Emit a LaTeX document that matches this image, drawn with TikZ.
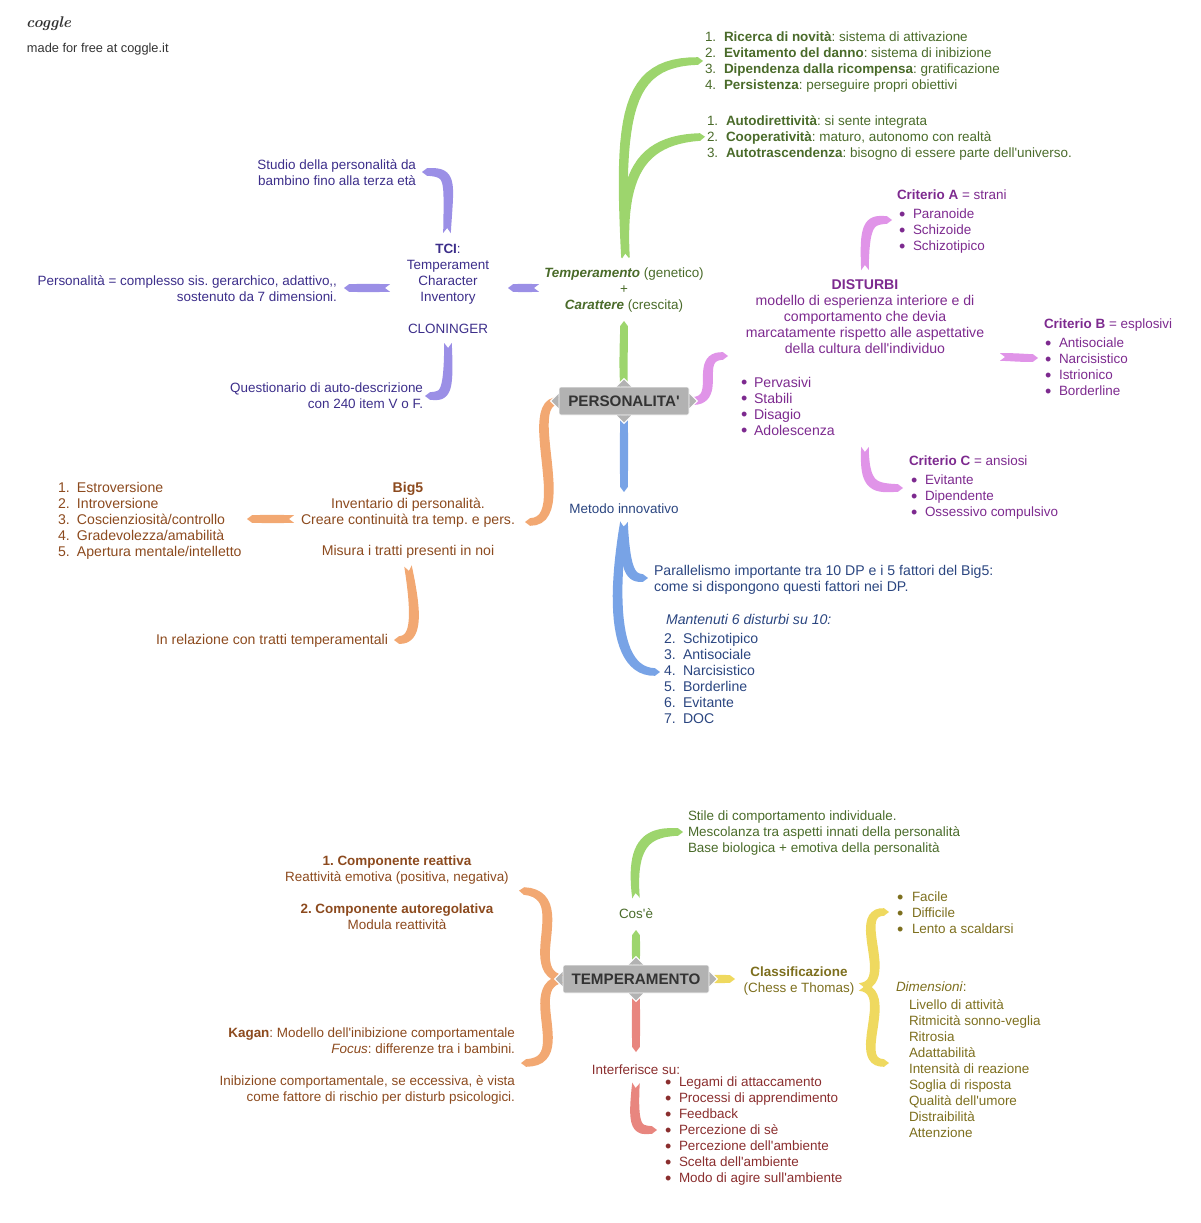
\documentclass[tikz,border=0pt]{standalone}
\usepackage{fontspec}
\usetikzlibrary{calc,backgrounds}
\newfontfamily\lib{Liberation Sans}
\definecolor{gribbon}{HTML}{9DD56D}\definecolor{gtext}{HTML}{4A6B2A}
\definecolor{vribbon}{HTML}{9B8FE6}\definecolor{vtext}{HTML}{3C2E8A}
\definecolor{mribbon}{HTML}{E094E8}\definecolor{mtext}{HTML}{7D2A8F}
\definecolor{oribbon}{HTML}{F2A872}\definecolor{otext}{HTML}{8C4A1E}
\definecolor{bribbon}{HTML}{78A3E6}\definecolor{btext}{HTML}{2A4580}
\definecolor{yribbon}{HTML}{EFD95F}\definecolor{ytext}{HTML}{7D6F1E}
\definecolor{rribbon}{HTML}{E8867F}\definecolor{rtext}{HTML}{8A2E2E}
\definecolor{central}{HTML}{B2B2B2}\definecolor{ctext}{HTML}{333333}
\newcommand\Sx{\rule[-4.8pt]{0pt}{16pt}}
\newcommand\Ni[1]{\makebox[19pt][l]{#1}}
\newcommand\Bu[1]{\makebox[#1][l]{\raisebox{-1.8pt}{\fontsize{18}{16}\selectfont •}}}
\def\rK{1.2}
\newcommand\rPoint[2]{%
 \pgfmathsetmacro\rt{#1/24}\pgfmathsetmacro\ru{1-\rt}%
 \pgfmathsetmacro\rX{\ru*\ru*\ru*\rxp+3*\ru*\ru*\rt*\rxa+3*\ru*\rt*\rt*\rxb+\rt*\rt*\rt*\rxq}%
 \pgfmathsetmacro\rY{\ru*\ru*\ru*\ryp+3*\ru*\ru*\rt*\rya+3*\ru*\rt*\rt*\ryb+\rt*\rt*\rt*\ryq}%
 \pgfmathsetmacro\rDX{3*\ru*\ru*(\rxa-\rxp)+6*\ru*\rt*(\rxb-\rxa)+3*\rt*\rt*(\rxq-\rxb)}%
 \pgfmathsetmacro\rDY{3*\ru*\ru*(\rya-\ryp)+6*\ru*\rt*(\ryb-\rya)+3*\rt*\rt*(\ryq-\ryb)}%
 \pgfmathsetmacro\rL{veclen(\rDX,\rDY)}%
 \pgfmathsetmacro\rW{3.8+\rK*sin(180*\rt)}%
 \pgfmathsetmacro\rOX{\rX-(#2)*\rW*\rDY/\rL}%
 \pgfmathsetmacro\rOY{\rY+(#2)*\rW*\rDX/\rL}%
 \pgfpathlineto{\pgfpoint{\rOX pt}{\rOY pt}}}
% name, colour, start, control 1, control 2, end of the shaft (the tip lies 5 beyond it)
\newcommand\ribbon[6]{%
 \coordinate (#1p) at (#3);\coordinate (#1a) at (#4);\coordinate (#1b) at (#5);\coordinate (#1q) at (#6);
 \pgfpointanchor{#1p}{center}\pgfgetlastxy\rxp\ryp
 \pgfpointanchor{#1a}{center}\pgfgetlastxy\rxa\rya
 \pgfpointanchor{#1b}{center}\pgfgetlastxy\rxb\ryb
 \pgfpointanchor{#1q}{center}\pgfgetlastxy\rxq\ryq
 \pgfmathsetmacro\rxp{\rxp}\pgfmathsetmacro\ryp{\ryp}\pgfmathsetmacro\rxa{\rxa}\pgfmathsetmacro\rya{\rya}%
 \pgfmathsetmacro\rxb{\rxb}\pgfmathsetmacro\ryb{\ryb}\pgfmathsetmacro\rxq{\rxq}\pgfmathsetmacro\ryq{\ryq}%
 \begin{pgfonlayer}{background}\begin{pgfscope}\pgfsetfillcolor{#2}%
 \pgfmathsetmacro\rL{veclen(\rxa-\rxp,\rya-\ryp)}%
 \pgfmathsetmacro\rNX{\rxp+5*(\rxa-\rxp)/\rL}\pgfmathsetmacro\rNY{\ryp+5*(\rya-\ryp)/\rL}%
 \pgfpathmoveto{\pgfpoint{\rNX pt}{\rNY pt}}%
 \foreach \ri in {0,...,24}{\rPoint{\ri}{1}}%
 \pgfmathsetmacro\rL{veclen(\rxq-\rxb,\ryq-\ryb)}%
 \pgfmathsetmacro\rTX{\rxq+5*(\rxq-\rxb)/\rL}\pgfmathsetmacro\rTY{\ryq+5*(\ryq-\ryb)/\rL}%
 \pgfpathlineto{\pgfpoint{\rTX pt}{\rTY pt}}%
 \foreach \ri in {24,23,...,0}{\rPoint{\ri}{-1}}%
 \pgfpathclose\pgfusepath{fill}%
 \end{pgfscope}\end{pgfonlayer}\def\rK{1.2}}
\newcommand\sribbon{\def\rK{.3}\ribbon}
\newcommand\chev[1]{%
\draw[white,line width=1.1pt,fill=central,line join=miter]
 ($(#1.north)+(-8,0)$) -- ($(#1.north)+(0,-8)$) -- ($(#1.north)+(8,0)$);
\draw[white,line width=1.1pt,fill=central]
 ($(#1.south)+(-8,0)$) -- ($(#1.south)+(0,8)$) -- ($(#1.south)+(8,0)$);
\draw[white,line width=1.1pt,fill=central]
 ($(#1.west)+(0,-8)$) -- ($(#1.west)+(-8,0)$) -- ($(#1.west)+(0,8)$);
\draw[white,line width=1.1pt,fill=central]
 ($(#1.east)+(0,-8)$) -- ($(#1.east)+(8,0)$) -- ($(#1.east)+(0,8)$);}
\tikzset{
 txt/.style={inner sep=0pt,outer sep=0pt,yshift=-2.4pt,font=\lib\fontsize{13.45}{16}\selectfont\frenchspacing,
   execute at begin node=\Sx,execute at end node=\Sx},
 lft/.style={txt,align=left,anchor=west},
 rgt/.style={txt,align=right,anchor=east},
 ctr/.style={txt,align=center,anchor=center},
 big/.style={font=\lib\fontsize{14.1}{16}\selectfont\frenchspacing},
 hub/.style={fill=central,rounded corners=2pt,draw=white,line width=.6pt,text=ctext,inner sep=0pt,
   font=\lib\fontsize{15.2}{18}\selectfont\bfseries,minimum height=28pt}
}
\begin{document}
\begin{tikzpicture}[x=1pt,y=-1pt]
\useasboundingbox (0,0) rectangle (1200,1223);
% logo
\node[inner sep=0pt,anchor=west,text=ctext] (logo) at (26,24) {\fontsize{15.5}{18}\selectfont\itshape\bfseries coggle};
\node[lft,text=ctext,font=\lib\fontsize{12.8}{16}\selectfont] (free) at (27,47) {made for free at coggle.it};
% hubs
\node[hub,minimum width=130pt] (pers) at (624,401) {PERSONALITA'};
\chev{pers}
\node[hub,minimum width=146pt] (temp) at (636,979) {TEMPERAMENTO};
\chev{temp}
% ---- personalita: green
\node[ctr,text=gtext] (tc) at (624,289) {\textbf{\textit{Temperamento}} (genetico)\\+\\\textbf{\textit{Carattere}} (crescita)};
\node[lft,text=gtext] (nov) at (705,61) {\Ni{1.}\textbf{Ricerca di novità}: sistema di attivazione\\\Ni{2.}\textbf{Evitamento del danno}: sistema di inibizione\\\Ni{3.}\textbf{Dipendenza dalla ricompensa}: gratificazione\\\Ni{4.}\textbf{Persistenza}: perseguire propri obiettivi};
\node[lft,text=gtext] (aut) at (707,137) {\Ni{1.}\textbf{Autodirettività}: si sente integrata\\\Ni{2.}\textbf{Cooperatività}: maturo, autonomo con realtà\\\Ni{3.}\textbf{Autotrascendenza}: bisogno di essere parte dell'universo.};
\sribbon{ga}{gribbon}{pers.north}{623,365}{624,345}{624,326}
\ribbon{gb}{gribbon}{625,258}{619,115}{625,62}{698,61}
\ribbon{gc}{gribbon}{626,258}{620,175}{640,140}{700,137}
% ---- violet
\node[ctr,text=vtext] (tci) at (448,273) {\textbf{TCI}:\\Temperament\\Character\\Inventory};
\node[ctr,text=vtext] (clo) at (448,328) {CLONINGER};
\node[rgt,text=vtext] (pgs) at (337,289) {Personalità = complesso sis. gerarchico, adattivo,,\\sostenuto da 7 dimensioni.};
\node[rgt,text=vtext] (stu) at (416,173) {Studio della personalità da\\bambino fino alla terza età};
\node[rgt,text=vtext] (que) at (423,396) {Questionario di auto-descrizione\\con 240 item V o F.};
\sribbon{va}{vribbon}{539,288}{528,288}{520,288}{513,288}
\sribbon{vb}{vribbon}{390,288}{375,288}{360,288}{349,288}
\ribbon{vc}{vribbon}{447,233}{449,180}{452,172}{427,172}
\ribbon{vd}{vribbon}{448,343}{449,395}{445,396}{430,396}
% ---- orange top
\node[ctr,big,text=otext] (big) at (408,503) {\textbf{Big5}\\Inventario di personalità.\\Creare continuità tra temp. e pers.};
\node[ctr,big,text=otext] (mis) at (408,550) {Misura i tratti presenti in noi};
\node[lft,big,text=otext] (tra) at (58,519) {\Ni{1.}Estroversione\\\Ni{2.}Introversione\\\Ni{3.}Coscienziosità/controllo\\\Ni{4.}Gradevolezza/amabilità\\\Ni{5.}Apertura mentale/intelletto};
\node[rgt,big,text=otext] (rel) at (388,639) {In relazione con tratti temperamentali};
\ribbon{oa}{oribbon}{pers.west}{520,400}{575,522}{530,522}
\sribbon{ob}{oribbon}{294,519}{280,519}{265,519}{252,519}
\ribbon{oc}{oribbon}{408,566}{417,615}{417,640}{399,640}
% ---- blue
\node[ctr,text=btext] (met) at (624,508) {Metodo innovativo};
\node[lft,big,text=btext] (par) at (654,578) {Parallelismo importante tra 10 DP e i 5 fattori del Big5:\\come si dispongono questi fattori nei DP.};
\node[lft,big,text=btext] (man) at (666,619) {\textit{Mantenuti 6 disturbi su 10:}};
\node[lft,big,text=btext] (dp) at (664,678) {\Ni{2.}Schizotipico\\\Ni{3.}Antisociale\\\Ni{4.}Narcisistico\\\Ni{5.}Borderline\\\Ni{6.}Evitante\\\Ni{7.}DOC};
\sribbon{ba}{bribbon}{pers.south}{624,440}{624,465}{624,487}
\ribbon{bb}{bribbon}{624,522}{625,570}{630,578}{643,578}
\ribbon{bc}{bribbon}{624,522}{612,600}{614,672}{655,672}
% ---- magenta
\node[ctr,big,text=mtext] (dis) at (865,316.5) {\textbf{DISTURBI}\\modello di esperienza interiore e di\\comportamento che devia\\marcatamente rispetto alle aspettative\\della cultura dell'individuo};
\node[lft,big,text=mtext] (pst) at (741,406) {\Bu{13pt}Pervasivi\\\Bu{13pt}Stabili\\\Bu{13pt}Disagio\\\Bu{13pt}Adolescenza};
\node[lft,text=mtext] (ca) at (897,194) {\textbf{Criterio A} = strani};
\node[lft,text=mtext] (cal) at (899,230) {\Bu{14pt}Paranoide\\\Bu{14pt}Schizoide\\\Bu{14pt}Schizotipico};
\node[lft,text=mtext] (cb) at (1044,323) {\textbf{Criterio B} = esplosivi};
\node[lft,text=mtext] (cbl) at (1045,367) {\Bu{14pt}Antisociale\\\Bu{14pt}Narcisistico\\\Bu{14pt}Istrionico\\\Bu{14pt}Borderline};
\node[lft,text=mtext] (cc) at (909,460) {\textbf{Criterio C} = ansiosi};
\node[lft,text=mtext] (ccl) at (911,496) {\Bu{14pt}Evitante\\\Bu{14pt}Dipendente\\\Bu{14pt}Ossessivo compulsivo};
\ribbon{ma}{mribbon}{pers.east}{725,403}{692,356}{723,356}
\ribbon{mb}{mribbon}{865,270}{864,222}{870,220}{887,220}
\sribbon{mc}{mribbon}{1000,357}{1012,357}{1022,358}{1033,358}
\ribbon{md}{mribbon}{865,447}{864,488}{875,488}{898,488}
% ---- temperamento
\node[ctr,text=gtext] (cos) at (636,913) {Cos'è};
\node[lft,text=gtext] (sti) at (688,832) {Stile di comportamento individuale.\\Mescolanza tra aspetti innati della personalità\\Base biologica + emotiva della personalità};
\sribbon{ta}{gribbon}{temp.north}{636,950}{636,945}{636,935}
\ribbon{tb}{gribbon}{636,898}{630,840}{650,832}{678,832}
\node[ctr,text=otext] (cr) at (397,869) {\textbf{1. Componente reattiva}\\Reattività emotiva (positiva, negativa)};
\node[ctr,text=otext] (ca2) at (397,917) {\textbf{2. Componente autoregolativa}\\Modula reattività};
\node[rgt,text=otext] (kag) at (515,1041) {\textbf{Kagan}: Modello dell'inibizione comportamentale\\\textit{Focus}: differenze tra i bambini.};
\node[rgt,text=otext] (ini) at (515,1089) {Inibizione comportamentale, se eccessiva, è vista\\come fattore di rischio per disturb psicologici.};
\ribbon{tc}{oribbon}{temp.west}{520,972}{575,895}{524,891}
\ribbon{td}{oribbon}{temp.west}{520,985}{575,1062}{526,1063}
\node[ctr,text=ytext] (cla) at (799,980) {\textbf{Classificazione}\\(Chess e Thomas)};
\node[lft,text=ytext] (fac) at (897,913) {\Bu{15pt}Facile\\\Bu{15pt}Difficile\\\Bu{15pt}Lento a scaldarsi};
\node[lft,text=ytext] (dim) at (896,986) {\textit{Dimensioni}:};
\node[lft,text=ytext] (liv) at (909,1069) {Livello di attività\\Ritmicità sonno-veglia\\Ritrosia\\Adattabilità\\Intensità di reazione\\Soglia di risposta\\Qualità dell'umore\\Distraibilità\\Attenzione};
\sribbon{te}{yribbon}{temp.east}{718,979}{722,979}{730,979}
\ribbon{tf}{yribbon}{859,987}{897,985}{850,912}{884,912}
\ribbon{tg}{yribbon}{859,987}{897,989}{850,1063}{884,1063}
\node[ctr,text=rtext] (int) at (636,1069) {Interferisce su:};
\node[lft,text=rtext] (leg) at (665,1130) {\Bu{14pt}Legami di attaccamento\\\Bu{14pt}Processi di apprendimento\\\Bu{14pt}Feedback\\\Bu{14pt}Percezione di sè\\\Bu{14pt}Percezione dell'ambiente\\\Bu{14pt}Scelta dell'ambiente\\\Bu{14pt}Modo di agire sull'ambiente};
\sribbon{th}{rribbon}{temp.south}{636,1020}{636,1030}{636,1047}
\ribbon{ti}{rribbon}{636,1083}{632,1130}{638,1130}{652,1130}
\end{tikzpicture}
\end{document}
